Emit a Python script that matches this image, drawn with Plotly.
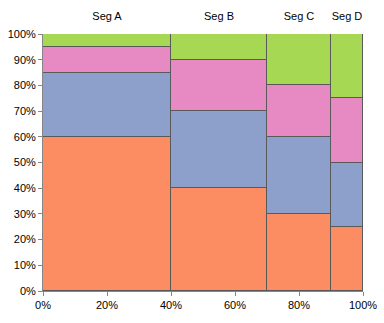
import plotly.graph_objects as go

# Marimekko data: segment shares (column widths) and the mix within each segment
segments = ["Seg A", "Seg B", "Seg C", "Seg D"]
seg_widths = [40, 30, 20, 10]          # percent of total
series_names = ["S1", "S2", "S3", "S4"]
series_values = [
    [60, 40, 30, 25],   # S1 (bottom)
    [25, 30, 30, 25],   # S2
    [10, 20, 20, 25],   # S3
    [5, 10, 20, 25],    # S4 (top)
]
colors = ["#FC8D62", "#8DA0CB", "#E78AC3", "#A6D854"]
x_ticks = [0, 20, 40, 60, 80, 100]
y_ticks = list(range(0, 101, 10))

# column centres from cumulative widths
lefts = []
acc = 0
for w in seg_widths:
    lefts.append(acc)
    acc += w
centres = [l + w / 2 for l, w in zip(lefts, seg_widths)]

fig = go.Figure()
for name, vals, col in zip(series_names, series_values, colors):
    fig.add_trace(go.Bar(
        x=centres, y=vals, width=seg_widths, name=name,
        marker=dict(color=col, line=dict(color="#595959", width=1)),
        hoverinfo="skip",
    ))

# invisible trace to carry the top category axis
fig.add_trace(go.Scatter(x=centres, y=[0] * len(centres), xaxis="x2",
                         mode="markers", marker=dict(opacity=0),
                         showlegend=False, hoverinfo="skip"))

axis_font = dict(family="Liberation Sans, Arial, sans-serif", size=11, color="#000000")
fig.update_layout(
    barmode="stack",
    bargap=0,
    width=384, height=323,
    margin=dict(l=43, r=21, t=34, b=32),
    paper_bgcolor="white", plot_bgcolor="white",
    showlegend=False,
    font=axis_font,
    xaxis=dict(range=[0, 100], tickvals=x_ticks, ticktext=[f"{v}%" for v in x_ticks],
               showgrid=False, zeroline=False, showline=True, linecolor="#868686",
               ticks="outside", ticklen=4, tickcolor="#868686", tickfont=axis_font,
               automargin=False),
    xaxis2=dict(range=[0, 100], overlaying="x", side="top", tickvals=centres,
                ticktext=segments, showgrid=False, zeroline=False, showline=False,
                ticks="outside", ticklen=9, tickcolor="rgba(0,0,0,0)", tickfont=axis_font,
                automargin=False),
    yaxis=dict(range=[0, 100], tickvals=y_ticks, ticktext=[f"{v}%" for v in y_ticks],
               showgrid=False, zeroline=False, showline=True, linecolor="#868686",
               ticks="outside", ticklen=4, tickcolor="#868686", tickfont=axis_font,
               automargin=False),
)

fig.write_html("out.html")
